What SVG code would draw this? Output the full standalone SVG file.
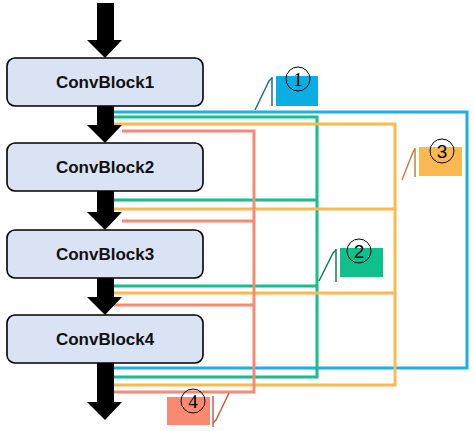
<svg xmlns="http://www.w3.org/2000/svg" width="474" height="431" viewBox="0 0 474 431">
<style>
.box{fill:#dae3f3;stroke:#000;stroke-width:1.6}
.lbl{font-family:"Liberation Sans",Arial,sans-serif;font-weight:bold;font-size:17px;fill:#111;text-anchor:middle}
.arrow{fill:#000}
.ln{fill:none;stroke-width:3}
.blue{stroke:#1cb0e2}
.green{stroke:#14c08e}
.orange{stroke:#fdb94f}
.salmon{stroke:#f98a72}
.lead{fill:none;stroke-width:1.5}
.circ{fill:none;stroke:#000;stroke-width:1}
.num{font-size:19px;fill:#000;text-anchor:middle}
.serif{font-family:"Liberation Serif","Times New Roman",serif}
.sans{font-family:"Liberation Sans",Arial,sans-serif}
</style>
<rect width="474" height="431" fill="#fff"/>
<g id="connectors">
<path class="ln blue" d="M114 112 H467 V368 H114"/>
<path class="ln green" d="M114 117 H317 V377 H114 M114 200 H317 M114 286 H317"/>
<path class="ln orange" d="M114 124 H395 V385 H114 M114 209 H395 M114 293 H395"/>
<path class="ln salmon" d="M122 131 H254 V392 H113 M122 221 H254 M114 305 H254"/>
</g>
<g id="arrows">
<polygon class="arrow" points="97,3 114,3 114,40 122,40 105,58 87,40 97,40"/>
<polygon class="arrow" points="97,106 114,106 114,125 122,125 105,143 87,125 97,125"/>
<polygon class="arrow" points="97,191 114,191 114,212 122,212 105,230 87,212 97,212"/>
<polygon class="arrow" points="97,278 114,278 114,297 122,297 105,315 87,297 97,297"/>
<polygon class="arrow" points="97,363 114,363 114,402 122,402 105,420 87,402 97,402"/>
</g>
<g id="convblock1">
<rect class="box" x="7" y="58" width="196" height="48" rx="8"/>
<text class="lbl" x="105" y="88">ConvBlock1</text>
</g>
<g id="convblock2">
<rect class="box" x="7" y="143" width="196" height="48" rx="8"/>
<text class="lbl" x="105" y="173">ConvBlock2</text>
</g>
<g id="convblock3">
<rect class="box" x="7" y="230" width="196" height="48" rx="8"/>
<text class="lbl" x="105" y="260">ConvBlock3</text>
</g>
<g id="convblock4">
<rect class="box" x="7" y="315" width="196" height="48" rx="8"/>
<text class="lbl" x="105" y="345">ConvBlock4</text>
</g>
<g id="label1">
<rect x="276" y="76" width="42" height="30" fill="#0aaee2"/>
<line class="lead" stroke="#1e6f9a" x1="272" y1="77" x2="272" y2="106"/>
<polyline class="lead" stroke="#1e6f9a" points="255,110 269,81 272,78"/>
<circle class="circ" cx="298" cy="79" r="12"/>
<text class="num serif" x="298" y="85.5">1</text>
</g>
<g id="label2">
<rect x="340" y="248" width="43" height="29" fill="#0fc08c"/>
<line class="lead" stroke="#1b7a58" x1="336" y1="249" x2="336" y2="282"/>
<polyline class="lead" stroke="#1b7a58" points="319,281 333,253 336,250"/>
<circle class="circ" cx="359" cy="251" r="12"/>
<text class="num sans" x="359" y="257.5">2</text>
</g>
<g id="label3">
<rect x="419" y="147" width="43" height="29" fill="#fdb84f"/>
<line class="lead" stroke="#c08240" x1="415" y1="148" x2="415" y2="177"/>
<polyline class="lead" stroke="#c08240" points="402,180 413,152 415,149"/>
<circle class="circ" cx="442" cy="151" r="12"/>
<text class="num sans" x="442" y="157.5">3</text>
</g>
<g id="label4">
<rect x="167" y="397" width="43" height="28" fill="#f98a72"/>
<line class="lead" stroke="#c0604e" x1="213" y1="396" x2="213" y2="427"/>
<polyline class="lead" stroke="#c0604e" points="213,423 216,420 229,393"/>
<circle class="circ" cx="193" cy="401" r="12"/>
<text class="num serif" x="193" y="407.5">4</text>
</g>
</svg>
